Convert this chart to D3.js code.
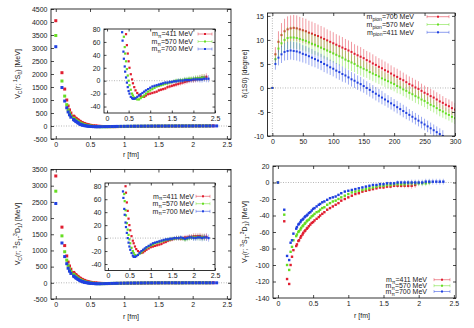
<!DOCTYPE html>
<html>
<head>
<meta charset="utf-8">
<script src="https://cdn.jsdelivr.net/npm/d3@7"></script>
<style>
  body { margin: 0; background: #fff; }
  text { font-family: "Liberation Sans", Arial, sans-serif; font-size: 7px; fill: #1a1a1a; }
  .axis path { display: none; }
  .axis line { stroke: #000; stroke-width: 0.7; }
</style>
</head>
<body>
<div id="chart"></div>
<script>
// Setting up constants
const FRAME_WIDTH = 474;
const FRAME_HEIGHT = 328;

// series colours
const RED = "#e01e30";
const GREEN = "#66dd22";
const BLUE = "#2040e0";

// pion masses for the legends [MeV]
const MASSES = ["411", "570", "700"];

// lattice distances r [fm], shared by the potentials
const R_GRID = [0, 0.09, 0.13, 0.16, 0.18, 0.20, 0.22, 0.26, 0.27, 0.29, 0.30, 0.32, 0.33, 0.35, 0.36,
                0.38, 0.39, 0.41, 0.42, 0.44, 0.46, 0.48, 0.50, 0.52, 0.55, 0.58, 0.60, 0.63, 0.66, 0.70,
                0.74, 0.78, 0.82, 0.86, 0.90, 0.95, 1.00, 1.05, 1.10, 1.15, 1.20, 1.25, 1.30, 1.35, 1.40,
                1.45, 1.50, 1.55, 1.60, 1.65, 1.70, 1.75, 1.80, 1.85, 1.90, 1.95, 2.00, 2.05, 2.10, 2.15,
                2.20, 2.25, 2.30, 2.35];

// central potential, 1S0 [MeV]
const VC1_411 = [4050, 2050, 1420, 1000, 770, 620, 500, 380, 350, 300, 280, 240, 220, 185, 165,
                 135, 120, 100, 90, 72, 55, 42, 30, 20, 10, 2, -4, -10, -15, -19,
                 -22, -24, -25, -25, -23, -21, -20, -19, -18, -17, -15, -14, -13, -12, -10,
                 -9, -8, -7, -6, -5, -4, -3, -2, -1, 0, 1, 1, 2, 3, 4,
                 5, 5, 6, null];
const VC1_570 = [3480, 1730, 1150, 820, 620, 500, 400, 300, 270, 230, 210, 175, 155, 120, 105,
                 82, 68, 52, 42, 30, 18, 8, 0, -7, -14, -20, -23, -26, -28, -29,
                 -29, -27, -25, -23, -20, -17, -15, -13, -11, -9, -8, -7, -6, -5, -4,
                 -3, -2, -1, 0, 0, 1, 1, 2, 2, 3, 3, 3, 4, 4, 4,
                 5, 5, null, null];
const VC1_700 = [3050, 1480, 960, 700, 540, 430, 340, 250, 220, 185, 165, 130, 110, 75, 62,
                 45, 34, 22, 14, 5, -3, -10, -16, -20, -25, -27, -28, -28, -27, -25,
                 -23, -21, -19, -17, -15, -13, -11, -9, -8, -7, -6, -5, -4, -3, -3,
                 -2, -2, -1, -1, 0, 0, 0, 1, 1, 1, 1, 2, 2, 2, 2,
                 2, 3, 3, 3];

// central potential, 3S1-3D1 [MeV]
const VC3_411 = [3300, 1720, 1150, 830, 640, 520, 420, 320, 295, 255, 235, 200, 180, 150, 135,
                 110, 98, 80, 70, 55, 42, 30, 20, 12, 3, -4, -8, -13, -17, -20,
                 -22, -23, -22, -20, -18, -16, -14, -13, -12, -11, -10, -9, -7, -6, -4,
                 -3, -2, -1, 0, 0, -1, 0, 1, 1, 2, 2, 3, 3, 3, 3,
                 2, 2, 2, null];
const VC3_570 = [2830, 1450, 960, 700, 540, 430, 350, 260, 235, 200, 180, 150, 130, 100, 88,
                 68, 57, 43, 35, 23, 13, 5, -2, -8, -15, -20, -23, -26, -27, -26,
                 -24, -22, -19, -17, -15, -13, -11, -10, -8, -7, -6, -5, -4, -3, -2,
                 -2, -1, -1, 0, 0, 0, -1, -2, -1, 0, 1, 1, 1, 1, 1,
                 1, 1, null, null];
const VC3_700 = [2450, 1230, 810, 590, 450, 360, 290, 210, 190, 160, 140, 115, 100, 72, 62,
                 45, 36, 24, 17, 8, 0, -7, -13, -18, -23, -27, -29, -29, -28, -26,
                 -23, -20, -18, -16, -14, -12, -10, -8, -7, -6, -5, -4, -3, -2, -2,
                 -1, -1, 0, 0, 0, 1, 0, -1, 0, 1, 1, 0, 0, 1, 1,
                 0, 1, 1, 0];

// statistical errors of the central potentials [MeV]
const VC_ERR = [0, 0, 0, 0, 0, 0, 0, 1, 1, 1, 1, 1, 1, 1, 1,
                1, 1, 1, 1, 1, 1, 1, 1, 1, 1, 1, 1, 1, 1, 1,
                1, 1.5, 1.5, 1.5, 1.5, 1.5, 2, 2, 2, 2, 2.5, 2.5, 2.5, 2.5, 3,
                3, 3, 3, 3.5, 3.5, 3.5, 3.5, 4, 4, 4, 4, 4.5, 4.5, 4.5, 5,
                5, 5, 5.5, 5.5];

// tensor potential, 3S1-3D1 [MeV]
const VT_411 = [0, -47, -117, -123, -100, -90, -82, -77, -75, -71, -70, -67, -65, -63, -61,
                -59, -58, -56, -55, -53, -51, -49, -48, -46, -44, -42, -40, -38, -36, -33,
                -31, -29, -27, -25, -22, -20, -18, -16, -14, -13, -11, -10, -9, -8, -7,
                -6, -6, -5, -5, -4, -4, -4, -4, -4, -4, -3, null, null, null, null,
                null, null, null, null];
const VT_570 = [0, -39, -100, -106, -84, -78, -70, -65, -63, -60, -59, -57, -55, -53, -52,
                -50, -49, -47, -46, -45, -43, -41, -40, -38, -36, -35, -33, -31, -30, -27,
                -25, -23, -22, -20, -18, -16, -14, -12, -11, -10, -9, -8, -7, -6, -5,
                -4, -4, -3, -3, -2, -2, -2, -2, -1, -1, -1, -1, -1, -1, 0,
                null, null, null, null];
const VT_700 = [0, -33, -89, -94, -73, -70, -62, -56, -54, -51, -50, -48, -46, -45, -44,
                -42, -41, -40, -39, -37, -36, -34, -32, -31, -29, -27, -26, -24, -23, -21,
                -19, -18, -17, -15, -13, -11, -10, -9, -8, -7, -6, -5, -4, -3, -3,
                -2, -2, -1, -1, -1, 0, 0, 0, 0, 0, 0, 0, 0, 1, 1,
                1, 1, 1, 1];
const VT_ERR = [0, 0.5, 1, 1, 1, 1, 1, 1, 1, 1, 1, 1, 1, 1, 1,
                1, 1, 1, 1, 1, 1, 1, 1, 1, 1, 1, 1, 1, 1, 1,
                1, 1, 1, 1, 1, 1, 1, 1, 1, 1, 1.5, 1.5, 1.5, 1.5, 1.5,
                2, 2, 2, 2, 2, 2.5, 2.5, 3, 3, 3.5, 3.5, 3.5, 3.5, 3.5, 3.5,
                3.5, 3.5, 3.5, 3.5];

// 1S0 phase shift against lab energy [MeV]
const E_LAB = [0, 5, 10, 15, 20, 25, 30, 35, 40, 45, 50, 55, 60, 65, 70, 75, 80, 85, 90, 95,
               100, 105, 110, 115, 120, 125, 130, 135, 140, 145, 150, 155, 160, 165, 170, 175, 180, 185, 190, 195,
               200, 205, 210, 215, 220, 225, 230, 235, 240, 245, 250, 255, 260, 265, 270, 275, 280, 285, 290, 295,
               300];
const PH_700 = [0, 7.0, 9.6, 11.0, 11.8, 12.2, 12.4, 12.5, 12.4, 12.2, 12.0, 11.8, 11.5, 11.3, 11.0, 10.8, 10.5, 10.2, 9.9, 9.6,
                9.3, 9.0, 8.7, 8.4, 8.1, 7.8, 7.5, 7.1, 6.8, 6.5, 6.2, 5.8, 5.5, 5.1, 4.8, 4.4, 4.1, 3.7, 3.4, 3.0,
                2.6, 2.3, 1.9, 1.6, 1.2, 0.8, 0.5, 0.1, -0.2, -0.6, -1.0, -1.3, -1.7, -2.0, -2.4, -2.8, -3.1, -3.5, -3.8, -4.2,
                -4.5];
const PH_570 = [0, 6.0, 8.2, 9.3, 10.0, 10.4, 10.5, 10.5, 10.4, 10.2, 10.0, 9.8, 9.5, 9.2, 9.0, 8.7, 8.4, 8.1, 7.8, 7.5,
                7.2, 6.9, 6.6, 6.3, 5.9, 5.6, 5.3, 5.0, 4.6, 4.3, 4.0, 3.7, 3.3, 3.0, 2.7, 2.4, 2.0, 1.7, 1.4, 1.1,
                0.8, 0.4, 0.1, -0.3, -0.6, -1.0, -1.3, -1.7, -2.0, -2.4, -2.7, -3.1, -3.5, -3.8, -4.2, -4.6, -4.9, -5.3, -5.6, -6.0,
                -6.3];
const PH_411 = [0, 5.0, 6.3, 7.0, 7.5, 7.7, 7.8, 7.7, 7.6, 7.4, 7.1, 6.9, 6.6, 6.3, 6.0, 5.7, 5.4, 5.0, 4.7, 4.3,
                4.0, 3.6, 3.3, 2.9, 2.6, 2.2, 1.8, 1.5, 1.1, 0.8, 0.4, 0.0, -0.4, -0.8, -1.2, -1.6, -2.0, -2.4, -2.8, -3.2,
                -3.6, -4.0, -4.4, -4.8, -5.2, -5.6, -6.0, -6.4, -6.8, -7.2, -7.6, -8.0, -8.4, -8.8, -9.2, -9.6, -10.0, null, null, null,
                null];
const PH_ERR_700 = [0, 1.5, 2.2, 2.5, 2.6, 2.7, 2.7, 2.7, 2.7, 2.6, 2.6, 2.6, 2.5, 2.5, 2.5, 2.4, 2.4, 2.4, 2.3, 2.3,
                    2.3, 2.2, 2.2, 2.2, 2.1, 2.1, 2.1, 2.0, 2.0, 2.0, 1.9, 1.9, 1.9, 1.9, 1.8, 1.8, 1.8, 1.8, 1.7, 1.7,
                    1.7, 1.7, 1.7, 1.6, 1.6, 1.6, 1.6, 1.6, 1.6, 1.5, 1.5, 1.5, 1.5, 1.5, 1.5, 1.5, 1.4, 1.4, 1.4, 1.4,
                    1.4];
const PH_ERR_570 = [0, 1.3, 1.9, 2.1, 2.2, 2.3, 2.3, 2.3, 2.3, 2.2, 2.2, 2.2, 2.1, 2.1, 2.1, 2.0, 2.0, 2.0, 2.0, 1.9,
                    1.9, 1.9, 1.9, 1.8, 1.8, 1.8, 1.8, 1.7, 1.7, 1.7, 1.7, 1.6, 1.6, 1.6, 1.6, 1.6, 1.5, 1.5, 1.5, 1.5,
                    1.5, 1.5, 1.4, 1.4, 1.4, 1.4, 1.4, 1.4, 1.4, 1.3, 1.3, 1.3, 1.3, 1.3, 1.3, 1.3, 1.3, 1.2, 1.2, 1.2,
                    1.2];
const PH_ERR_411 = [0, 1.2, 1.6, 1.8, 1.8, 1.9, 1.9, 1.9, 1.9, 1.9, 1.8, 1.8, 1.8, 1.8, 1.7, 1.7, 1.7, 1.7, 1.7, 1.6,
                    1.6, 1.6, 1.6, 1.6, 1.5, 1.5, 1.5, 1.5, 1.5, 1.5, 1.4, 1.4, 1.4, 1.4, 1.4, 1.4, 1.4, 1.3, 1.3, 1.3,
                    1.3, 1.3, 1.3, 1.3, 1.3, 1.2, 1.2, 1.2, 1.2, 1.2, 1.2, 1.2, 1.2, 1.2, 1.2, 1.2, 1.2, null, null, null,
                    null];

// tick values
const R_TICKS = [0, 0.5, 1, 1.5, 2, 2.5];
const VC1_TICKS = [-500, 0, 500, 1000, 1500, 2000, 2500, 3000, 3500, 4000, 4500];
const VC3_TICKS = [-500, 0, 500, 1000, 1500, 2000, 2500, 3000, 3500];
const INSET_TICKS = [-40, -20, 0, 20, 40, 60, 80];
const VT_TICKS = [-140, -120, -100, -80, -60, -40, -20, 0, 20];
const E_TICKS = [0, 50, 100, 150, 200, 250, 300];
const PH_TICKS = [-10, -5, 0, 5, 10, 15];

// frame of the whole figure
const FRAME = d3.select("#chart")
                .append("svg")
                  .attr("width", FRAME_WIDTH)
                  .attr("height", FRAME_HEIGHT);

// builds scales and a clipped plotting group for one frame
function makePanel(id, box, xDomain, yDomain, filled) {
  const x = d3.scaleLinear().domain(xDomain).range([box.left, box.right]);
  const y = d3.scaleLinear().domain(yDomain).range([box.bottom, box.top]);

  if (filled) {
    FRAME.append("rect")
         .attr("x", box.left).attr("y", box.top)
         .attr("width", box.right - box.left).attr("height", box.bottom - box.top)
         .attr("fill", "#fff");
  }

  FRAME.append("clipPath").attr("id", id)
       .append("rect")
         .attr("x", box.left).attr("y", box.top)
         .attr("width", box.right - box.left).attr("height", box.bottom - box.top);

  const plot = FRAME.append("g").attr("clip-path", "url(#" + id + ")");
  return {x: x, y: y, box: box, plot: plot};
}

// gray dotted zero axis
function zeroLine(p, vertical) {
  const line = p.plot.append("line")
                 .attr("stroke", "#9a9a9a")
                 .attr("stroke-width", 0.7)
                 .attr("stroke-dasharray", "1,1.5");
  if (vertical) {
    line.attr("x1", p.x(0)).attr("x2", p.x(0)).attr("y1", p.box.top).attr("y2", p.box.bottom);
  } else {
    line.attr("x1", p.box.left).attr("x2", p.box.right).attr("y1", p.y(0)).attr("y2", p.y(0));
  }
}

// ticks on all four sides, labels on bottom and left
function drawAxes(p, xTicks, yTicks, len) {
  const fmt = d => String(d);
  const b = p.box;

  FRAME.append("g").attr("class", "axis")
       .attr("transform", "translate(0," + b.bottom + ")")
       .call(d3.axisBottom(p.x).tickValues(xTicks).tickSizeInner(-len).tickSizeOuter(0)
               .tickPadding(3).tickFormat(fmt));
  FRAME.append("g").attr("class", "axis")
       .attr("transform", "translate(0," + b.top + ")")
       .call(d3.axisTop(p.x).tickValues(xTicks).tickSizeInner(-len).tickSizeOuter(0).tickFormat(""));
  FRAME.append("g").attr("class", "axis")
       .attr("transform", "translate(" + b.left + ",0)")
       .call(d3.axisLeft(p.y).tickValues(yTicks).tickSizeInner(-len).tickSizeOuter(0)
               .tickPadding(3.5).tickFormat(fmt));
  FRAME.append("g").attr("class", "axis")
       .attr("transform", "translate(" + b.right + ",0)")
       .call(d3.axisRight(p.y).tickValues(yTicks).tickSizeInner(-len).tickSizeOuter(0).tickFormat(""));

  FRAME.append("rect")
       .attr("x", b.left).attr("y", b.top)
       .attr("width", b.right - b.left).attr("height", b.bottom - b.top)
       .attr("fill", "none").attr("stroke", "#000").attr("stroke-width", 0.8);

  FRAME.selectAll(".axis text").attr("font-size", null).attr("font-family", null);
}

// error bars and square markers for one series
function plotSeries(p, xs, ys, errs, color, size, barOpacity) {
  const pts = xs.map((d, i) => ({x: d, y: ys[i], e: errs ? errs[i] : 0}))
                .filter(d => d.y !== null && d.y !== undefined);
  const g = p.plot.append("g");

  g.selectAll("line")
   .data(pts.filter(d => d.e))
   .enter().append("line")
     .attr("x1", d => p.x(d.x))
     .attr("x2", d => p.x(d.x))
     .attr("y1", d => p.y(d.y - d.e))
     .attr("y2", d => p.y(d.y + d.e))
     .attr("stroke", color)
     .attr("stroke-opacity", barOpacity || 0.4)
     .attr("stroke-width", 0.9);

  g.selectAll("rect")
   .data(pts)
   .enter().append("rect")
     .attr("x", d => p.x(d.x) - size / 2)
     .attr("y", d => p.y(d.y) - size / 2)
     .attr("width", size)
     .attr("height", size)
     .attr("fill", color);
}

// one legend line: "m_sub=mass MeV" and an errorbar sample
function legendEntry(xText, y, x1, x2, sub, mass, color) {
  const t = FRAME.append("text")
                 .attr("x", xText).attr("y", y).attr("dy", "0.35em")
                 .attr("text-anchor", "end");
  t.append("tspan").text("m");
  t.append("tspan").attr("dy", 1.6).attr("font-size", "5px").text(sub);
  t.append("tspan").attr("dy", -1.6).text("=" + mass + " MeV");

  FRAME.append("line")
       .attr("x1", x1).attr("x2", x2).attr("y1", y).attr("y2", y)
       .attr("stroke", color).attr("stroke-opacity", 0.5).attr("stroke-width", 1);
  [x1, x2].forEach(xc => {
    FRAME.append("line")
         .attr("x1", xc).attr("x2", xc).attr("y1", y - 1.5).attr("y2", y + 1.5)
         .attr("stroke", color).attr("stroke-opacity", 0.5).attr("stroke-width", 0.8);
  });
  FRAME.append("rect")
       .attr("x", (x1 + x2) / 2 - 1).attr("y", y - 1)
       .attr("width", 2).attr("height", 2)
       .attr("fill", color);
}

// rotated axis title built from plain / sub / super pieces
function yTitle(x, y, pieces) {
  const t = FRAME.append("text")
                 .attr("transform", "translate(" + x + "," + y + ") rotate(-90)")
                 .attr("text-anchor", "middle");
  let shift = 0;
  pieces.forEach(pc => {
    const want = pc[1] === "sub" ? 1.8 : pc[1] === "sup" ? -2.6 : 0;
    const sp = t.append("tspan").attr("dy", want - shift).text(pc[0]);
    if (pc[1]) sp.attr("font-size", "5px");
    shift = want;
  });
  if (shift) t.append("tspan").attr("dy", -shift).text("");
}

function xTitle(x, y) {
  FRAME.append("text").attr("x", x).attr("y", y).attr("dy", "0.35em")
       .attr("text-anchor", "middle").text("r [fm]");
}

// ---- top left: V_C 1S0 ----
const P1 = makePanel("clip1", {left: 51, right: 231, top: 9, bottom: 139}, [-0.07, 2.56], [-500, 4500], false);
zeroLine(P1, false);
plotSeries(P1, R_GRID, VC1_411, null, RED, 3);
plotSeries(P1, R_GRID, VC1_570, null, GREEN, 3);
plotSeries(P1, R_GRID, VC1_700, null, BLUE, 3);
drawAxes(P1, R_TICKS, VC1_TICKS, 3);
yTitle(20, 74, [["V"], ["C", "sub"], ["(r; "], ["1", "sup"], ["S"], ["0", "sub"], [") [MeV]"]]);
xTitle(131, 155);

const P1_IN = makePanel("clip1in", {left: 104, right: 215, top: 29, bottom: 113}, [-0.07, 2.5], [-50, 80], true);
zeroLine(P1_IN, false);
plotSeries(P1_IN, R_GRID, VC1_411, VC_ERR, RED, 2.2);
plotSeries(P1_IN, R_GRID, VC1_570, VC_ERR, GREEN, 2.2);
plotSeries(P1_IN, R_GRID, VC1_700, VC_ERR, BLUE, 2.2);
drawAxes(P1_IN, R_TICKS, INSET_TICKS, 2.5);
legendEntry(193, 34, 198, 212, "π", MASSES[0], RED);
legendEntry(193, 41.5, 198, 212, "π", MASSES[1], GREEN);
legendEntry(193, 49, 198, 212, "π", MASSES[2], BLUE);

// ---- top right: phase shift ----
const P2 = makePanel("clip2", {left: 267.5, right: 455, top: 13, bottom: 136}, [-8, 300], [-10, 15.6], false);
zeroLine(P2, false);
zeroLine(P2, true);
plotSeries(P2, E_LAB, PH_700, PH_ERR_700, RED, 2, 0.5);
plotSeries(P2, E_LAB, PH_570, PH_ERR_570, GREEN, 2, 0.5);
plotSeries(P2, E_LAB, PH_411, PH_ERR_411, BLUE, 2, 0.5);
drawAxes(P2, E_TICKS, PH_TICKS, 3);
yTitle(247, 74, [["δ(1S0) [degree]"]]);
legendEntry(414, 16.7, 427, 449, "pion", MASSES[2], RED);
legendEntry(414, 24.5, 427, 449, "pion", MASSES[1], GREEN);
legendEntry(414, 32.3, 427, 449, "pion", MASSES[0], BLUE);

// ---- bottom left: V_C 3S1-3D1 ----
const P3 = makePanel("clip3", {left: 51, right: 231, top: 169.5, bottom: 299}, [-0.07, 2.56], [-500, 3500], false);
zeroLine(P3, false);
plotSeries(P3, R_GRID, VC3_411, null, RED, 3);
plotSeries(P3, R_GRID, VC3_570, null, GREEN, 3);
plotSeries(P3, R_GRID, VC3_700, null, BLUE, 3);
drawAxes(P3, R_TICKS, VC3_TICKS, 3);
yTitle(20, 234, [["V"], ["C", "sub"], ["(r; "], ["3", "sup"], ["S"], ["1", "sub"], ["-"], ["3", "sup"], ["D"], ["1", "sub"], [") [MeV]"]]);
xTitle(131, 317);

const P3_IN = makePanel("clip3in", {left: 105, right: 215, top: 183, bottom: 270.5}, [-0.07, 2.5], [-50, 85], true);
zeroLine(P3_IN, false);
plotSeries(P3_IN, R_GRID, VC3_411, VC_ERR, RED, 2.2);
plotSeries(P3_IN, R_GRID, VC3_570, VC_ERR, GREEN, 2.2);
plotSeries(P3_IN, R_GRID, VC3_700, VC_ERR, BLUE, 2.2);
drawAxes(P3_IN, R_TICKS, INSET_TICKS, 2.5);
legendEntry(194, 196.3, 196, 210, "π", MASSES[0], RED);
legendEntry(194, 203.7, 196, 210, "π", MASSES[1], GREEN);
legendEntry(194, 211.3, 196, 210, "π", MASSES[2], BLUE);

// ---- bottom right: V_T 3S1-3D1 ----
const P4 = makePanel("clip4", {left: 273, right: 456, top: 166, bottom: 298}, [-0.07, 2.53], [-140, 20], false);
zeroLine(P4, false);
plotSeries(P4, R_GRID, VT_411, VT_ERR, RED, 2.4);
plotSeries(P4, R_GRID, VT_570, VT_ERR, GREEN, 2.4);
plotSeries(P4, R_GRID, VT_700, VT_ERR, BLUE, 2.4);
drawAxes(P4, R_TICKS, VT_TICKS, 3);
yTitle(247, 232, [["V"], ["T", "sub"], ["(r; "], ["3", "sup"], ["S"], ["1", "sub"], ["-"], ["3", "sup"], ["D"], ["1", "sub"], [") [MeV]"]]);
xTitle(362, 316);
legendEntry(427, 279.7, 434, 450, "π", MASSES[0], RED);
legendEntry(427, 285.7, 434, 450, "π", MASSES[1], GREEN);
legendEntry(427, 291.5, 434, 450, "π", MASSES[2], BLUE);
</script>
</body>
</html>
